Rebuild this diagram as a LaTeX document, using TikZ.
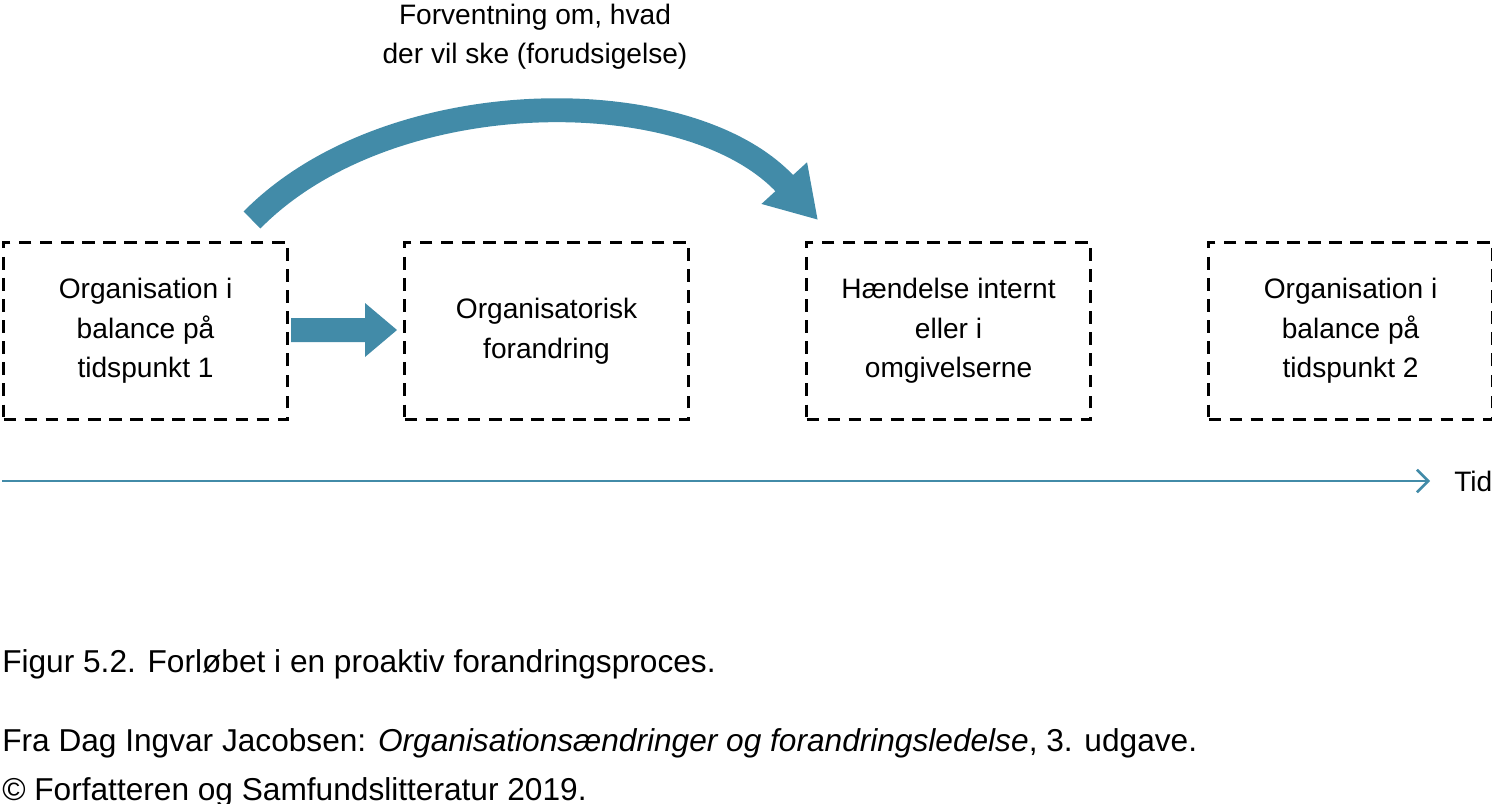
\documentclass[tikz,border=0pt]{standalone}
\usepackage{fontspec}
\setmainfont{Liberation Sans}
\usetikzlibrary{arrows.meta}
\definecolor{teal}{RGB}{66,139,168}
\begin{document}
\begin{tikzpicture}[x=0.025cm,y=-0.025cm,
  box/.style={draw=black,dashed,dash pattern=on 9pt off 6pt,line width=2.2pt,minimum width=284*0.025cm,minimum height=177*0.025cm,anchor=north west,inner sep=0pt,align=center,font=\fontsize{20}{28}\selectfont},
  lab/.style={font=\fontsize{20}{28}\selectfont,align=center}]
\useasboundingbox (0,0) rectangle (1492,803);
\node[box] (b1) at (2,241) {Organisation i\\balance på\\tidspunkt 1};
\node[box] (b2) at (403,241) {Organisatorisk\\forandring};
\node[box] (b3) at (805,241) {Hændelse internt\\eller i\\omgivelserne};
\node[box] (b4) at (1207,241) {Organisation i\\balance på\\tidspunkt 2};
\coordinate (t0) at (2,481);
\coordinate (t1) at (1430,481);
\draw[teal,line width=1.8pt,-{Straight Barb[length=8pt,width=16pt]}] (t0) -- (t1);
\node[lab,anchor=west,inner sep=0pt] (tid) at (1454,481) {Tid};
\fill[teal] (291,318) -- (365,318) -- (365,303) -- (397,330) -- (365,357) -- (365,342) -- (291,342) -- cycle;
\coordinate (cs) at (252,220);
\coordinate (ce) at (818,220);
\draw[teal,line width=17pt,-{Triangle[width=1.45cm,length=1.25cm]}] (cs) .. controls (390,80) and (690,80) .. (ce);
\node[lab] (top) at (535,37) {Forventning om, hvad\\der vil ske (forudsigelse)};
\node[anchor=west,inner sep=0pt,font=\fontsize{22.5}{30}\selectfont] (cap) at (2,664) {Figur 5.2. Forløbet i en proaktiv forandringsproces.};
\node[anchor=north west,inner sep=0pt,align=left,font=\fontsize{22.5}{35}\selectfont] (src) at (2,728) {Fra Dag Ingvar Jacobsen: \textit{Organisationsændringer og forandringsledelse}, 3. udgave.\\© Forfatteren og Samfundslitteratur 2019.};
\end{tikzpicture}
\end{document}
